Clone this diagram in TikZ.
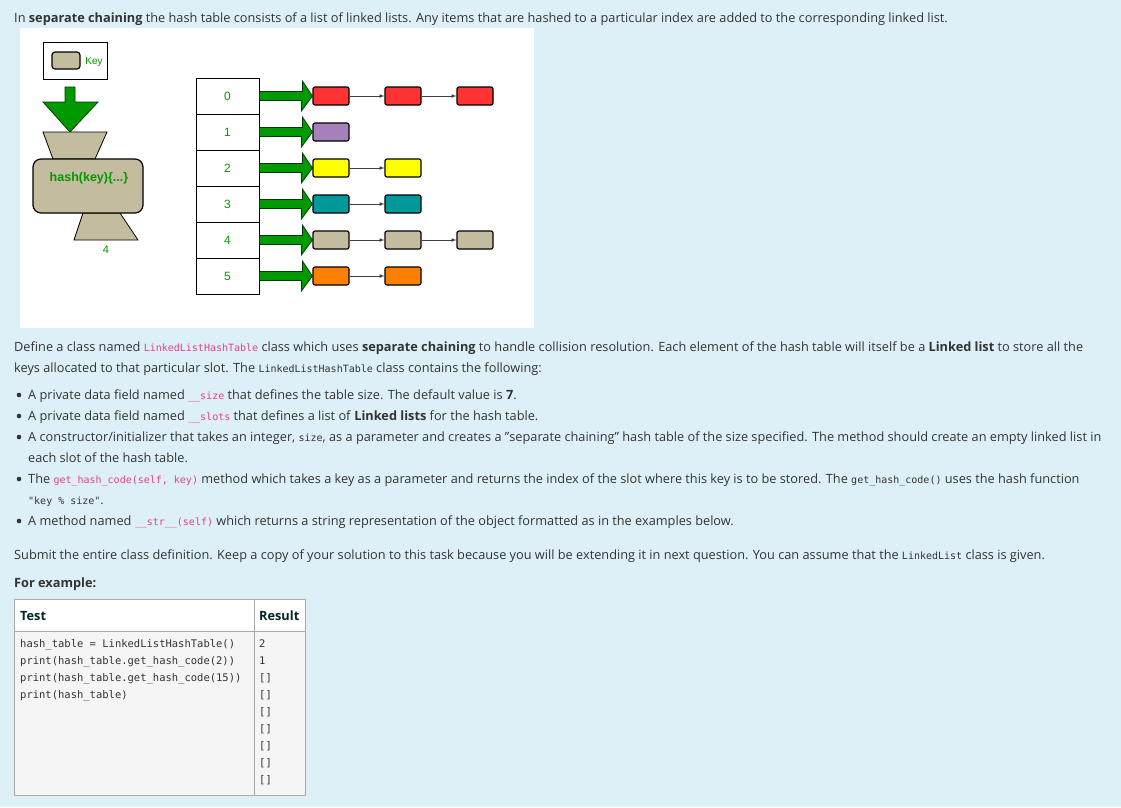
\documentclass[tikz,border=0pt]{standalone}
\usepackage{fontspec}
\setmainfont{Open Sans}
\setmonofont{DejaVu Sans Mono}
\newfontfamily\arial{Liberation Sans}
\usepackage{xcolor}
\usetikzlibrary{arrows}
\usetikzlibrary{calc}
\definecolor{pagebg}{HTML}{DDF0F7}
\definecolor{textcol}{HTML}{333333}
\definecolor{codepink}{HTML}{E83E8C}
\definecolor{hashgreen}{HTML}{009900}
\definecolor{tan}{HTML}{C4BC9E}
\definecolor{cred}{HTML}{FF3333}
\definecolor{cpurple}{HTML}{A680B8}
\definecolor{cyellow}{HTML}{FFFF00}
\definecolor{cteal}{HTML}{009999}
\definecolor{corange}{HTML}{FF8000}
\definecolor{gridcol}{HTML}{AAAAAA}
\newcommand{\pk}[1]{{\fontsize{10}{10}\ttfamily\color{codepink}#1}}
\newcommand{\cd}[1]{{\fontsize{10}{10}\ttfamily #1}}
\tikzset{
  txt/.style={anchor=base west,inner sep=0pt,text=textcol,font=\fontsize{12.75}{14}\selectfont},
  cell/.style={draw=black,line width=1.2pt,rounded corners=2pt,minimum width=36pt,minimum height=18pt,inner sep=0pt},
  slot/.style={draw=black,line width=0.8pt,fill=white,minimum width=63pt,minimum height=36pt,inner sep=0pt,text=hashgreen,font=\arial\fontsize{12}{14}\selectfont},
  link/.style={-latex,line width=0.7pt,draw=black!75},
  blockarrow/.style={fill=hashgreen,draw=black!60!hashgreen,line width=0.8pt},
  code/.style={anchor=base west,inner sep=0pt,text=textcol,font=\fontsize{10.5}{12}\ttfamily}
}
\begin{document}
\begin{tikzpicture}[x=1pt,y=-1pt]
\fill[pagebg] (0,0) rectangle (1121,807);
\useasboundingbox (0,0) rectangle (1121,807);
\fill[white] (20,28) rectangle (534,328);

% key box and hash function
\node[draw=black,line width=1pt,minimum width=64pt,minimum height=37pt] (keybox) at (75,60.5) {};
\node[draw=black,line width=1.2pt,fill=tan,rounded corners=3pt,minimum width=28pt,minimum height=17pt,inner sep=0pt] (key) at (66,60.5) {};
\node[text=hashgreen,font=\arial\fontsize{10}{12}\selectfont,inner sep=0pt] (keylbl) at (94,62) {Key};
\draw[blockarrow] (65,87) -- (75,87) -- (75,102) -- (98,102) -- (70,132) -- (43,102) -- (65,102) -- cycle;
\fill[tan,draw=black,line width=0.8pt] (43,132) -- (107,132) -- (95,159) -- (53,159) -- cycle;
\fill[tan,draw=black,line width=0.8pt] (83,213) -- (120,213) -- (138,240) -- (74,240) -- cycle;
\node[draw=black,line width=1.2pt,fill=tan,rounded corners=8pt,minimum width=110pt,minimum height=54pt] (hash) at (88,186) {};
\node[text=hashgreen,font=\arial\bfseries\fontsize{12.5}{14}\selectfont,inner sep=0pt] (hashlbl) at (89,178) {hash(key)\{...\}};
\node[text=hashgreen,font=\arial\fontsize{11}{13}\selectfont,inner sep=0pt] (out) at (106,250) {4};

% slots and chains
\foreach \i/\y in {0/96,1/132,2/168,3/204,4/240,5/276}
  \node[slot] (s\i) at (227.5,\y) {\i};
\foreach \i/\n/\c in {0/3/cred,1/1/cpurple,2/2/cyellow,3/2/cteal,4/3/tan,5/2/corange}{
  \foreach \k in {1,...,\n}
    \node[cell,fill=\c] (c\i\k) at ({331+72*(\k-1)},{96+36*\i}) {};
  \draw[blockarrow] ($(s\i.east)+(0,-4.5)$) -- ++(43,0) -- ++(0,-10.5) -- (c\i1.west) -- ++(-11,15) -- ++(0,-10.5) -- ($(s\i.east)+(0,4.5)$) -- cycle;
}
\foreach \a/\b in {01/02,02/03,21/22,31/32,41/42,42/43,51/52}
  \draw[link] (c\a.east) -- (c\b.west);

% text
\node[txt] (t0) at (14,22) {In \textbf{separate chaining} the hash table consists of a list of linked lists. Any items that are hashed to a particular index are added to the corresponding linked list.};
\node[txt] (t1) at (14,351) {Define a class named \pk{LinkedListHashTable} class which uses \textbf{separate chaining} to handle collision resolution. Each element of the hash table will itself be a \textbf{Linked list} to store all the};
\node[txt] (t2) at (14,372) {keys allocated to that particular slot. The \cd{LinkedListHashTable} class contains the following:};
\foreach \y in {395,416,437,479,521}
  \fill[textcol] (19,\y) circle (2.3pt);
\node[txt] (b1) at (28,399) {A private data field named \pk{\_\_size} that defines the table size. The default value is \textbf{7}.};
\node[txt] (b2) at (28,420) {A private data field named \pk{\_\_slots} that defines a list of \textbf{Linked lists} for the hash table.};
\node[txt] (b3) at (28,441) {A constructor/initializer that takes an integer, \cd{size}, as a parameter and creates a "separate chaining" hash table of the size specified. The method should create an empty linked list in};
\node[txt] (b3b) at (28,462) {each slot of the hash table.};
\node[txt] (b4) at (28,483) {The \pk{get\_hash\_code(self, key)} method which takes a key as a parameter and returns the index of the slot where this key is to be stored. The \cd{get\_hash\_code()} uses the hash function};
\node[txt] (b4b) at (28,504) {\cd{"key \% size"}.};
\node[txt] (b5) at (28,525) {A method named \pk{\_\_str\_\_(self)} which returns a string representation of the object formatted as in the examples below.};
\node[txt] (t3) at (14,559) {Submit the entire class definition. Keep a copy of your solution to this task because you will be extending it in next question. You can assume that the \cd{LinkedList} class is given.};
\node[txt] (t4) at (14,587) {\textbf{For example:}};

% example table
\fill[white] (14,599) rectangle (305,631);
\fill[black!4] (14,631) rectangle (305,795);
\draw[gridcol] (14,599) rectangle (305,795) (14,631) -- (305,631) (254,599) -- (254,795);
\node[txt,font=\bfseries\fontsize{12.75}{14}\selectfont,text=black!75!cteal] (hd1) at (20,620) {Test};
\node[txt,font=\bfseries\fontsize{12.75}{14}\selectfont,text=black!75!cteal] (hd2) at (259,620) {Result};
\foreach \l [count=\j from 0] in {hash\_table = LinkedListHashTable(),print(hash\_table.get\_hash\_code(2)),print(hash\_table.get\_hash\_code(15)),print(hash\_table)}
  \node[code] (code\j) at (20,{647+17*\j}) {\l};
\foreach \r [count=\j from 0] in {2,1,[],[],[],[],[],[],[]}
  \node[code] (res\j) at (259,{647+17*\j}) {\r};
\end{tikzpicture}
\end{document}
